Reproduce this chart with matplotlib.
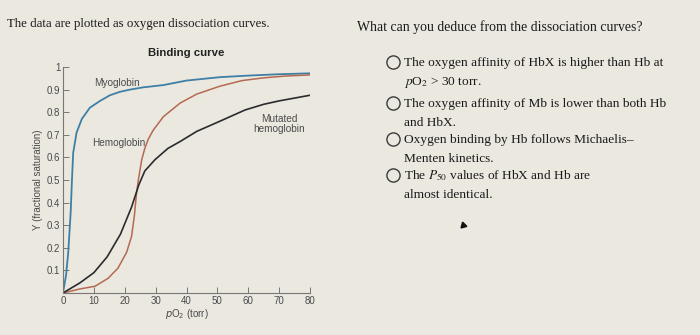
import matplotlib
matplotlib.use("Agg")
import matplotlib.pyplot as plt
from matplotlib.lines import Line2D

# values
mb_po2 = [0, 1.0, 1.7, 2.5, 2.9, 3.3, 4.4, 6.1, 8.7, 12, 15.2, 18.4, 21.7, 26,
          32.5, 40, 50.8, 60, 70, 80]
mb_y = [0, 0.08, 0.18, 0.36, 0.50, 0.62, 0.71, 0.77, 0.82, 0.85, 0.875, 0.89,
        0.90, 0.91, 0.92, 0.94, 0.955, 0.962, 0.968, 0.972]

hb_po2 = [0, 5.5, 10.4, 14.6, 17.8, 20.6, 22.2, 23.1, 23.8, 24.4, 25.5, 26.5,
          27.6, 29.2, 32.5, 37.9, 43.3, 50.8, 58, 65, 72, 80]
hb_y = [0, 0.018, 0.03, 0.065, 0.11, 0.18, 0.25, 0.34, 0.44, 0.50, 0.59, 0.64,
        0.68, 0.72, 0.78, 0.84, 0.88, 0.915, 0.94, 0.952, 0.96, 0.965]

hbx_po2 = [0, 5.5, 10, 14.3, 18.6, 22.2, 24.6, 26.5, 29.8, 34, 37.9, 43.3,
           50.8, 59, 65, 70, 80]
hbx_y = [0, 0.045, 0.09, 0.16, 0.26, 0.38, 0.48, 0.54, 0.59, 0.64, 0.67,
         0.715, 0.76, 0.81, 0.835, 0.85, 0.875]

x_ticks = [0, 10, 20, 30, 40, 50, 60, 70, 80]
y_ticks = [0.1, 0.2, 0.3, 0.4, 0.5, 0.6, 0.7, 0.8, 0.9, 1.0]
y_tick_labels = ["0.1", "0.2", "0.3", "0.4", "0.5", "0.6", "0.7", "0.8", "0.9", "1"]

question = "What can you deduce from the dissociation curves?"
options = [
    ["The oxygen affinity of HbX is higher than Hb at", "$p$O$_2$ > 30 torr."],
    ["The oxygen affinity of Mb is lower than both Hb", "and HbX."],
    ["Oxygen binding by Hb follows Michaelis\u2013", "Menten kinetics."],
    ["The $P_{50}$ values of HbX and Hb are", "almost identical."],
]

bg = "#ebe8e0"
sans = ["Liberation Sans", "DejaVu Sans"]
serif = ["Liberation Serif", "DejaVu Serif"]
grey = "#4a4a4a"
ink = "#1a1a1a"

fig = plt.figure(figsize=(7, 3.35), dpi=100, facecolor=bg)
W, H = 700, 335


def fx(px):
    return px / W


def fy(py):
    return 1 - py / H


fig.text(fx(7), fy(27), "The data are plotted as oxygen dissociation curves.",
         family=serif, fontsize=9.3, color=ink, va="baseline")

ax = fig.add_axes([fx(63), fy(293), fx(310) - fx(63), fy(67) - fy(293)])
ax.set_facecolor(bg)
ax.plot(mb_po2, mb_y, color="#3f7fa6", lw=1.3, solid_joinstyle="round")
ax.plot(hb_po2, hb_y, color="#b46a50", lw=1.1, solid_joinstyle="round")
ax.plot(hbx_po2, hbx_y, color="#2b2b2e", lw=1.2, solid_joinstyle="round")

ax.set_xlim(0, 80)
ax.set_ylim(0, 1)
for s in ["top", "right"]:
    ax.spines[s].set_visible(False)
for s in ["left", "bottom"]:
    ax.spines[s].set_color("#777777")
    ax.spines[s].set_linewidth(0.8)
ax.set_xticks(x_ticks)
ax.set_yticks(y_ticks)
ax.set_yticklabels(y_tick_labels)
ax.tick_params(direction="in", length=4, width=0.7, color="#777777",
               labelsize=7, labelcolor=grey, pad=2)
for lab in ax.get_xticklabels() + ax.get_yticklabels():
    lab.set_family(sans)

ax.set_xlabel("$p$O$_2$ (torr)", family=sans, fontsize=7, color=grey,
              labelpad=1, math_fontfamily="dejavusans")
ax.set_ylabel("Y (fractional saturation)", family=sans, fontsize=7,
              color=grey, labelpad=3)
ax.set_title("Binding curve", family=sans, fontsize=8.2, fontweight="bold",
             color="#222222", pad=8)

ax.text(10, 0.918, "Myoglobin", family=sans, fontsize=7.2, color=grey)
ax.text(9.3, 0.65, "Hemoglobin", family=sans, fontsize=7.2, color=grey)
ax.text(70, 0.75, "Mutated\nhemoglobin", family=sans, fontsize=7.2,
        color=grey, ha="center", va="center", linespacing=1.0)

fig.text(fx(357), fy(31), question, family=serif, fontsize=9.9,
         color=ink, va="baseline")

row_y = [62, 103, 139, 175]
for (first, second), y in zip(options, row_y):
    fig.add_artist(Line2D([fx(393)], [fy(y)], marker="o", markersize=9.5,
                          mfc="none", mec="#3a3a3a", mew=1.0,
                          transform=fig.transFigure))
    fig.text(fx(404), fy(y + 4), first, family=serif, fontsize=9.6,
             color=ink, va="baseline", math_fontfamily="stix")
    fig.text(fx(404), fy(y + 23), second, family=serif, fontsize=9.6,
             color=ink, va="baseline", math_fontfamily="stix")

# mouse pointer visible in the screenshot
fig.add_artist(Line2D([fx(463)], [fy(225)], marker=(3, 0, 15), markersize=5,
                      color="#111111", transform=fig.transFigure))

fig.savefig("out.png", dpi=100, facecolor=bg)
